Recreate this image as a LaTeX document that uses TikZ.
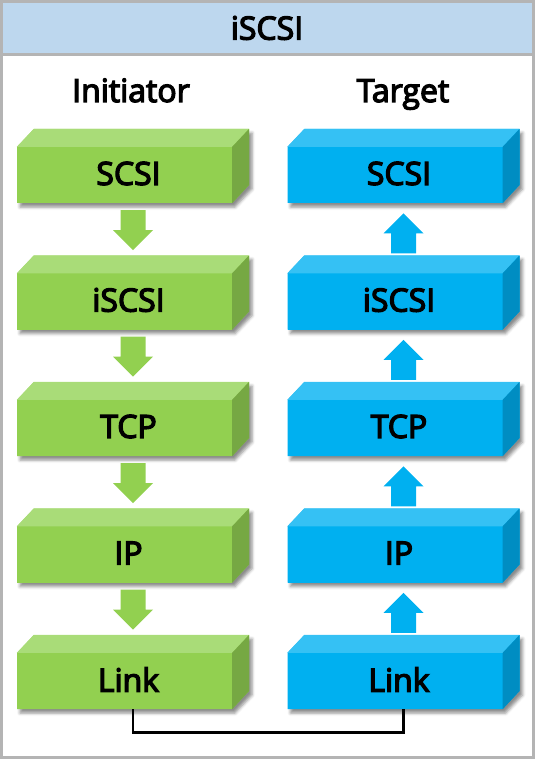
\documentclass[tikz,border=0pt]{standalone}
\usepackage{fontspec}
\setmainfont{Open Sans}
\newfontfamily\semib{Open Sans}[FakeBold=4]
\usetikzlibrary{calc,shadows.blur}
\definecolor{gfront}{HTML}{92D050}
\definecolor{gtop}{HTML}{A9DC78}
\definecolor{gside}{HTML}{76A843}
\definecolor{bfront}{HTML}{00B0F0}
\definecolor{btop}{HTML}{35C1F4}
\definecolor{bside}{HTML}{008DC2}
\definecolor{band}{HTML}{BDD7EE}
\definecolor{frame}{HTML}{B4B4B4}
\begin{document}
\begin{tikzpicture}[x=1pt,y=-1pt,
  layer/.style={minimum width=215pt,minimum height=56pt,inner sep=0pt,
    font=\fontsize{32}{34}\semib},
  head/.style={font=\fontsize{32}{34}\semib},
  slabshadow/.style={blur shadow={shadow xshift=3pt,shadow yshift=-4pt,
    shadow blur radius=3pt,shadow opacity=45}}]
 \useasboundingbox (0,0) rectangle (535,759);
 % frame and title band
 \fill[band] (3,3) rectangle (532,54);
 \draw[frame,line width=3pt] (3,54.5)--(532,54.5);
 \draw[frame,line width=3pt] (1.5,1.5) rectangle (533.5,757.5);
 \node[head] (title) at (267,28) {iSCSI};
 \node[head,anchor=base] (ini) at (131,102) {Initiator};
 \node[head,anchor=base] (tgt) at (403,102) {Target};
 % the two stacks
 \foreach \lbl/\nm [count=\i from 0] in {SCSI/scsi,iSCSI/iscsi,TCP/tcp,IP/ip,Link/link}{
  \foreach \sd/\cx/\cf/\ct/\cs in {g/124.5/gfront/gtop/gside,b/395/bfront/btop/bside}{
   \path[slabshadow,fill=\cf] (\cx-107.5,147+126.5*\i) -- ++(17,-18) -- ++(215,0)
        -- ++(0,56) -- ++(-17,18) -- ++(-215,0) -- cycle;
   \node[layer,fill=\cf] (\sd\nm) at (\cx,175+126.5*\i) {};
   \fill[\ct] (\sd\nm.north west) -- ++(17,-18) -- ++(215,0)
        -- (\sd\nm.north east) -- cycle;
   \fill[\cs] (\sd\nm.north east) -- ++(17,-18) -- ++(0,56)
        -- (\sd\nm.south east) -- cycle;
   \node[layer] at ($(\sd\nm)+(4,-1.5)$) {\lbl};
  }
 }
 % arrows down (initiator) and up (target)
 \foreach \a/\b in {scsi/iscsi,iscsi/tcp,tcp/ip,ip/link}{
  \fill[gfront] ($(g\a.south)+(-4,7)$) -- ++(0,20) -- ++(-7.5,0) -- ++(20,20)
       -- ++(20,-20) -- ++(-7.5,0) -- ++(0,-20) -- cycle;
  \fill[bfront] ($(b\b.north)+(-4,-20)$) -- ++(0,-20) -- ++(-7.5,0) -- ++(20,-20)
       -- ++(20,20) -- ++(-7.5,0) -- ++(0,20) -- cycle;
 }
 % link between the two stacks
 \coordinate (gl) at ($(glink.south)+(8.5,0)$);
 \coordinate (bl) at ($(blink.south)+(8.5,0)$);
 \draw[line width=2.6pt] (gl) -- ++(0,23) -| (bl);
\end{tikzpicture}
\end{document}
